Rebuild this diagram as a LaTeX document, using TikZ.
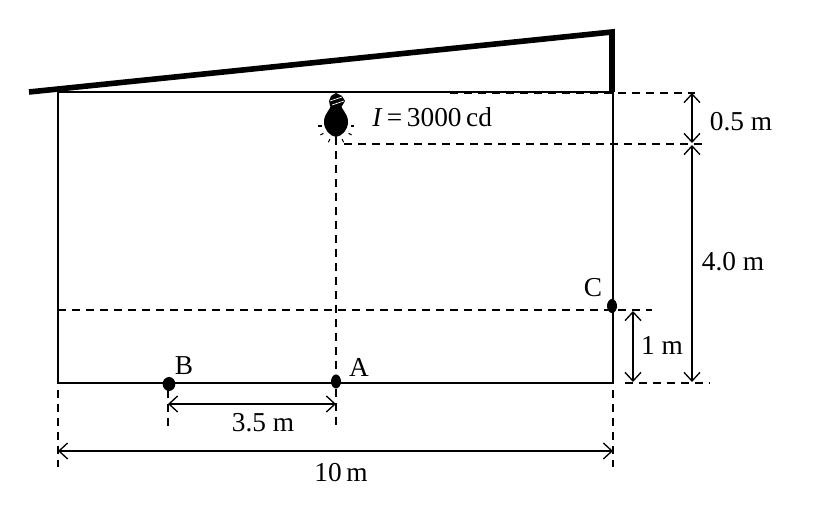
\documentclass[tikz,border=0pt]{standalone}
\usepackage{fontspec}
\setmainfont{Liberation Serif}
\usetikzlibrary{arrows.meta,shapes.geometric}
\begin{document}
\begin{tikzpicture}[x=0.75pt, y=-0.75pt,
    every node/.style = {font=\fontsize{20.5}{22}\selectfont, inner sep=0pt},
    wall/.style = {line width=1.5pt},
    roof/.style = {line width=4.2pt},
    guide/.style = {line width=1pt, dash pattern=on 6pt off 4.5pt},
    dimline/.style = {line width=1pt, {Straight Barb[length=6.5pt,width=12pt]}-{Straight Barb[length=6.5pt,width=12pt]}},
    spot/.style = {shape=ellipse, fill=black, minimum width=#1, minimum height=10.5pt},
    ]
    \useasboundingbox (0,0) rectangle (814,530);
    % room
    \coordinate (roofL) at (29,92);
    \coordinate (roofR) at (612,32);
    \coordinate (roofB) at (612,92);
    \coordinate (nw) at (58,92);
    \coordinate (ne) at (613,92);
    \coordinate (se) at (613,383);
    \coordinate (sw) at (58,383);
    \draw[wall] (nw) -- (ne) -- (se) -- (sw) -- cycle;
    \draw[roof, line join=miter] (roofL) -- (roofR) -- (roofB);
    % points
    \node[spot=9.5pt] (B) at (169,384) {};
    \node[spot=7.5pt] (A) at (336,381.5) {};
    \node[spot=7.5pt] (C) at (612,306) {};
    \node (labB) at (184,366) {B};
    \node (labA) at (359,367) {A};
    \node (labC) at (593,288) {C};
    % lamp
    \coordinate (lamp) at (336,137);
    \fill (331,104) .. controls (331,110) and (324,113) .. (324,122)
      .. controls (324,130) and (330,136) .. (336,137)
      .. controls (342,136) and (348,130) .. (348,122)
      .. controls (348,113) and (341,110) .. (341,104) -- cycle;
    \fill (336,93) -- (342,96) -- (345,101) -- (342,106) -- (330,106) -- (329,101) -- (331,96) -- cycle;
    \draw[white, line width=0.5pt] (330,101) -- (342,97) (332,105) -- (344,101);
    \foreach \ang in {0,30,65,115,150,180}
      \draw[line width=0.8pt, shift={(336,126)}] (\ang:14.5) -- (\ang:18);
    \node[anchor=west] (intensity) at (372,117) {\textit{I}\,=\,3000\,cd};
    % guide lines
    \coordinate (top1) at (450,93);
    \coordinate (top2) at (695,93);
    \coordinate (mid1) at (344,144);
    \coordinate (mid2) at (708,144);
    \coordinate (cc1) at (58,310);
    \coordinate (cc2) at (652,310);
    \coordinate (low1) at (625,383);
    \coordinate (low2) at (710,383);
    \coordinate (foot) at (336,425);
    \coordinate (footB) at (168,390);
    \coordinate (footB2) at (168,430);
    \coordinate (footL) at (58,390);
    \coordinate (footL2) at (58,467);
    \coordinate (footR) at (613,390);
    \coordinate (footR2) at (613,467);
    \draw[guide] (top1) -- (top2);
    \draw[guide] (mid1) -- (mid2);
    \draw[guide] (cc1) -- (cc2);
    \draw[guide] (low1) -- (low2);
    \draw[guide] (lamp) -- (A);
    \draw[guide] (A) -- (foot);
    \draw[guide] (footB) -- (footB2);
    \draw[guide] (footL) -- (footL2);
    \draw[guide] (footR) -- (footR2);
    % dimensions
    \coordinate (d1) at (692,93);
    \coordinate (d2) at (692,143);
    \coordinate (d2b) at (692,145);
    \coordinate (d3) at (692,382);
    \coordinate (d4) at (633,311);
    \coordinate (d5) at (633,382);
    \coordinate (d6) at (168,404);
    \coordinate (d7) at (336,404);
    \coordinate (d8) at (58,451);
    \coordinate (d9) at (613,451);
    \draw[dimline] (d1) -- (d2);
    \draw[dimline] (d2b) -- (d3);
    \draw[dimline] (d4) -- (d5);
    \draw[dimline] (d6) -- (d7);
    \draw[dimline] (d8) -- (d9);
    \node (lab05) at (741,122) {0.5 m};
    \node (lab40) at (733,262) {4.0 m};
    \node (lab1) at (662,345) {1 m};
    \node (lab35) at (263,423) {3.5 m};
    \node (lab10) at (341,473) {10\,m};
\end{tikzpicture}
\end{document}
